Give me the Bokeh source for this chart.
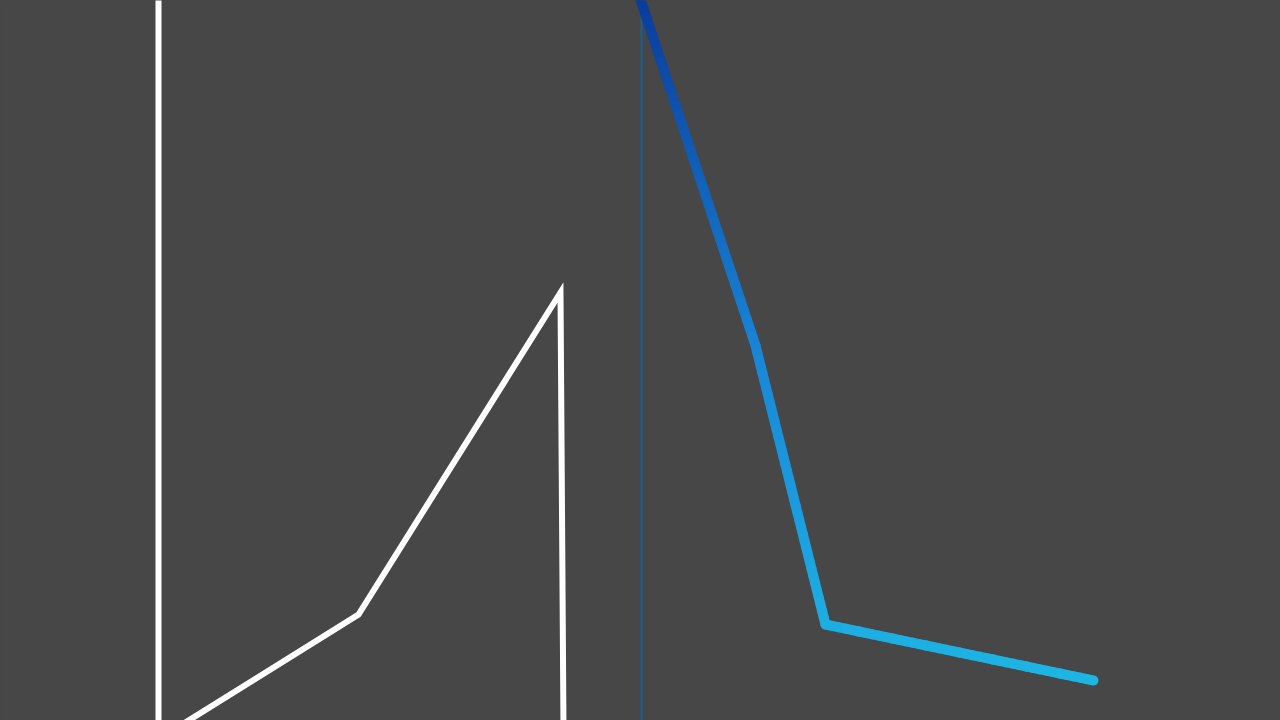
import numpy as np
from bokeh.plotting import figure
from bokeh.models import Range1d
from bokeh.embed import file_html
from bokeh.resources import INLINE

# Data (horizontal position, height above bottom edge)
frame_x = [158, 158]
frame_y = [730, -10]

path_x = [172, 358, 560, 563]
path_y = [-10, 106, 428, -10]

marker_x = [641, 641]
marker_y = [730, -10]

trend_x = [637, 755, 825, 1093]
trend_y = [730, 375, 96, 40]

BG = "#474747"

p = figure(width=1280, height=720, output_backend="svg", toolbar_location=None,
           x_range=Range1d(0, 1280), y_range=Range1d(0, 720),
           min_border=0, outline_line_color=None)
p.axis.visible = False
p.grid.visible = False
p.background_fill_color = BG
p.border_fill_color = BG

p.line(frame_x, frame_y, line_color="white", line_width=6)
p.line(path_x, path_y, line_color="white", line_width=6, line_join="miter")
p.line(marker_x, marker_y, line_color="#1d5f92", line_width=2)

# gradient rendering of the trend line (colour by height)
top_c = np.array([10, 58, 154])
mid_c = np.array([26, 136, 216])
bot_c = np.array([30, 182, 228])

def col_at(h):
    t = np.clip((730 - h) / 690.0, 0, 1)
    if t < 0.55:
        c = top_c + (mid_c - top_c) * (t / 0.55)
    else:
        c = mid_c + (bot_c - mid_c) * ((t - 0.55) / 0.45)
    c = c.astype(int)
    return "#%02x%02x%02x" % tuple(c)

x0s, y0s, x1s, y1s, cols = [], [], [], [], []
for i in range(len(trend_x) - 1):
    n = 40
    xs = np.linspace(trend_x[i], trend_x[i + 1], n + 1)
    ys = np.linspace(trend_y[i], trend_y[i + 1], n + 1)
    for j in range(n):
        x0s.append(xs[j]); y0s.append(ys[j]); x1s.append(xs[j + 1]); y1s.append(ys[j + 1])
        cols.append(col_at((ys[j] + ys[j + 1]) / 2))
p.segment(x0s, y0s, x1s, y1s, line_color=cols, line_width=10, line_cap="round")

html = file_html(p, INLINE)
html = html.replace("<head>", "<head><style>html,body{background:%s;}</style>" % BG, 1)
open("out.html", "w").write(html)
